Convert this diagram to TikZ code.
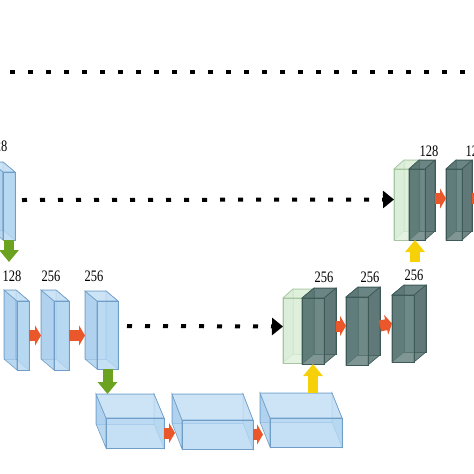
\documentclass[tikz,border=0pt]{standalone}
\usepackage{fontspec}
\newfontfamily\labfont[FakeStretch=0.78]{Liberation Serif}
\usetikzlibrary{arrows.meta,positioning}

\definecolor{blueedge}{HTML}{6F9FC9}
\definecolor{blueback}{HTML}{C4DFF5}
\definecolor{blueside}{HTML}{A9CDEC}
\definecolor{bluetop}{HTML}{CDE4F8}
\definecolor{bluefront}{HTML}{B7D8F2}
\definecolor{darkedge}{HTML}{3E5A58}
\definecolor{darkback}{HTML}{9BB0AE}
\definecolor{darkside}{HTML}{4C6866}
\definecolor{darktop}{HTML}{5A7775}
\definecolor{darkfront}{HTML}{5F7C7A}
\definecolor{lightedge}{HTML}{A6C6A2}
\definecolor{lightback}{HTML}{E4F3E1}
\definecolor{lightside}{HTML}{D2E9CE}
\definecolor{lighttop}{HTML}{DDEFDA}
\definecolor{lightfront}{HTML}{DCEFD9}
\definecolor{arrorange}{HTML}{E9572B}
\definecolor{arrgreen}{HTML}{6BA21F}
\definecolor{arryellow}{HTML}{F6D10A}

\tikzset{
  face/.style={line width=0.6pt, fill opacity=0.8},
  frontface/.style={draw=#1edge, fill=#1front, face, inner sep=0pt, outer sep=0pt},
  lab/.style={font=\labfont\fontsize{16}{16}\selectfont, inner sep=0pt},
  dotline/.style={line width=4pt, dash pattern=on 5pt off 13pt},
  dotarrow/.style={dotline, -{Triangle[length=11pt,width=17pt]}},
  orangearr/.style={arrorange, line width=11pt, -{Triangle[length=6pt,width=20pt]}},
  greenarr/.style={arrgreen, line width=10pt, -{Triangle[length=12pt,width=19pt]}},
  yellowarr/.style={arryellow, line width=10pt, -{Triangle[length=12pt,width=19pt]}},
}

% #1 name, #2 x, #3 y, #4 w, #5 h, #6 dx, #7 dy, #8 colour set
\newcommand\cuboid[8]{%
  \coordinate (#1-bnw) at ({#2+#6},{#3+#7});
  \coordinate (#1-bne) at ({#2+#4+#6},{#3+#7});
  \filldraw[face, draw=#8edge, fill=#8back] (#1-bnw) rectangle ++(#4,#5);
  \filldraw[face, draw=#8edge, fill=#8side] (#2,#3) -- ++(0,#5) -- ++(#6,#7) -- ++(0,-#5) -- cycle;
  \filldraw[face, draw=#8edge, fill=#8side] ({#2+#4},#3) -- ++(0,#5) -- ++(#6,#7) -- ++(0,-#5) -- cycle;
  \filldraw[face, draw=#8edge, fill=#8top] (#2,#3) -- ++(#4,0) -- ++(#6,#7) -- ++(-#4,0) -- cycle;
  \node[frontface=#8, minimum width=#4pt, minimum height=#5pt, anchor=north west] (#1) at (#2,#3) {};
}

\begin{document}
\begin{tikzpicture}[x=1pt,y=-1pt]
\useasboundingbox (0,0) rectangle (474,474);
\clip (0,0) rectangle (474,474);

% encoder boxes
\cuboid{TL}{3}{172}{12}{68}{-12}{-10}{blue}
\cuboid{L1}{17}{301}{12}{69}{-13}{-11}{blue}
\cuboid{L2}{54}{301}{15}{69}{-13}{-11}{blue}
\cuboid{L3}{97}{301}{21}{68}{-12}{-10}{blue}

% bottom boxes
\cuboid{B1}{106}{418}{58}{30}{-10}{-24}{blue}
\cuboid{B2}{182}{420}{71}{29}{-10}{-26}{blue}
\cuboid{B3}{270}{418}{72}{29}{-10}{-25}{blue}

% decoder boxes
\cuboid{G1}{283}{298}{20}{65}{10}{-9}{light}
\cuboid{D1}{302}{298}{22}{66}{12}{-10}{dark}
\cuboid{D2}{346}{297}{22}{68}{12}{-10}{dark}
\cuboid{D3}{392}{295}{22}{67}{12}{-10}{dark}
\cuboid{G2}{394}{169}{16}{71}{10}{-9}{light}
\cuboid{D4}{409}{169}{16}{71}{10}{-9}{dark}
\cuboid{D5}{446}{169}{16}{71}{10}{-9}{dark}

% labels
\node[lab] (tTL) at (-2,146) {128};
\node[lab] (tL1) at (12,276) {128};
\node[lab] (tL2) at (51,276) {256};
\node[lab] (tL3) at (94,276) {256};
\node[lab] (tD1) at (324,277) {256};
\node[lab] (tD2) at (370,277) {256};
\node[lab] (tD3) at (414,275) {256};
\node[lab] (tD4) at (429,151) {128};
\node[lab] (tD5) at (475,151) {128};

% skip connections
\coordinate (topa) at (10,72);
\coordinate (topb) at (480,72);
\draw[dotline] (topa) -- (topb);
\draw[dotarrow] ([xshift=7pt,yshift=6pt]TL.east) -- ([yshift=5pt]G2.west);
\draw[dotarrow] ([xshift=9pt,yshift=9pt]L3.east) -- ([yshift=4pt]G1.west);

% convolutions
\draw[orangearr] (L1.east) -- (L1.east -| L2-bnw);
\draw[orangearr] (L2.east) -- (L2.east -| L3-bnw);
\draw[orangearr] (B1.east) -- ([xshift=3pt]B1.east -| B2-bnw);
\draw[orangearr] (B2.east) -- ([xshift=3pt]B2.east -| B3-bnw);
\draw[orangearr] ([yshift=5pt]D1.east -| D1-bne) -- ([yshift=5pt]D2.west);
\draw[orangearr] ([yshift=5pt]D2.east -| D2-bne) -- ([yshift=5pt]D3.west);
\draw[orangearr] ([yshift=6pt]D4.east -| D4-bne) -- ([yshift=6pt]D5.west);
\coordinate (outr) at (490,198);
\draw[orangearr] (D5.east -| D5-bne) ++(0,-6) -- (outr);

% down and up sampling
\coordinate (downa) at (9,262);
\draw[greenarr] (TL.south) -- (downa);
\draw[greenarr] (L3.south) -- (L3.south |- B1-bnw);
\draw[yellowarr] (D1.south |- B3-bnw) -- (D1.south);
\coordinate (upa) at (415,262);
\draw[yellowarr] (upa) -- (upa |- D4.south);
\end{tikzpicture}
\end{document}
